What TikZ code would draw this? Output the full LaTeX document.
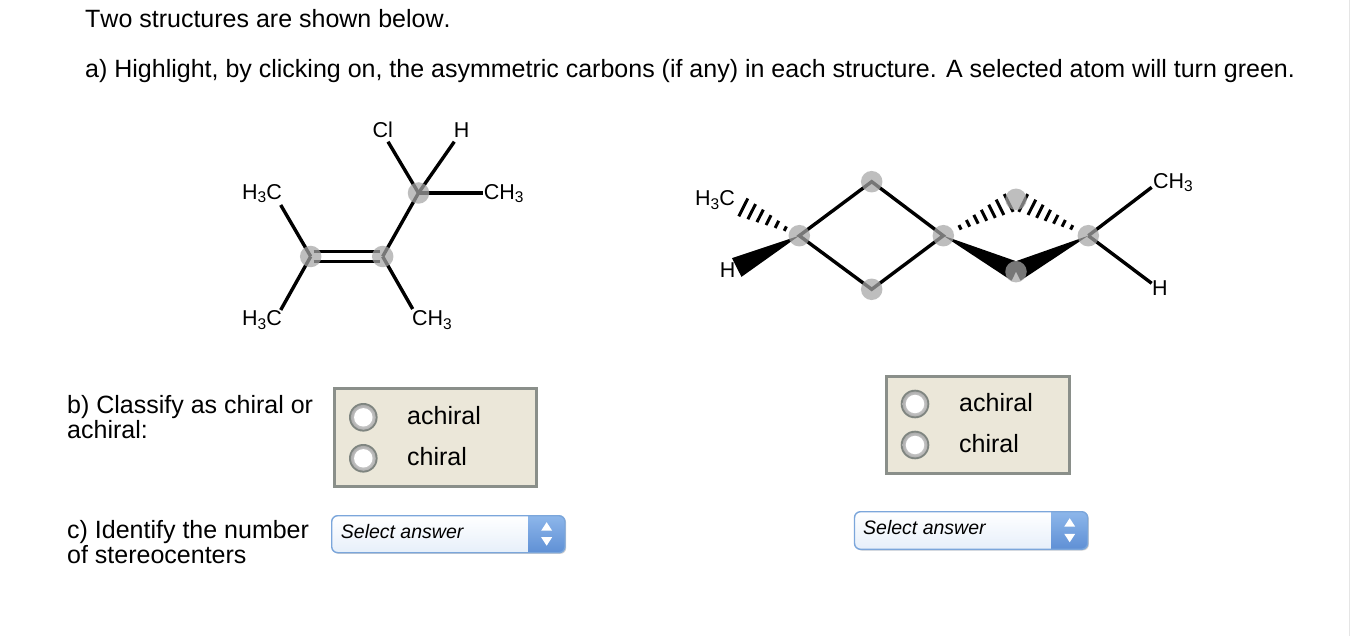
\documentclass[tikz,border=0pt]{standalone}
\usepackage{fontspec}
\setmainfont[Kerning=Off]{Liberation Sans}
\usetikzlibrary{calc}
\definecolor{panelfill}{HTML}{EBE7D9}
\definecolor{panelline}{HTML}{8A8F8A}
\definecolor{radioring}{HTML}{7F8580}
\definecolor{selline}{HTML}{7BA6DB}
\definecolor{btntop}{HTML}{8DB6EA}
\definecolor{btnbot}{HTML}{5F90D5}
\definecolor{selbot}{HTML}{E6EFFA}
\newcommand\sbt{\raisebox{-3.5pt}{\fontsize{15.5}{15.5}\selectfont 3}}
\tikzset{
  x=1pt,y=-1pt,
  bond/.style={line width=3.4pt,black},
  dbl/.style={line width=3pt,black},
  hashline/.style={line width=3pt,black},
  atom/.style={circle,fill=black!35,fill opacity=.72,draw=none,minimum size=21.5pt,inner sep=0pt},
  lab/.style={anchor=base,inner sep=0pt,font=\fontsize{21.5}{24}\selectfont},
  head/.style={anchor=base west,inner sep=0pt,font=\fontsize{25}{29}\selectfont},
  qtext/.style={anchor=north west,inner sep=0pt,align=left,font=\fontsize{25}{25}\selectfont},
  opt/.style={anchor=base west,inner sep=0pt,font=\fontsize{25}{29}\selectfont},
  panel/.style={draw=panelline,fill=panelfill,line width=3pt},
  seltext/.style={anchor=base west,inner sep=0pt,font=\fontsize{19.5}{22}\itshape\selectfont},
  ring/.style={circle,fill=radioring,draw=none,minimum size=28.6pt,inner sep=0pt},
  tri/.style={fill=white,draw=none},
}
% radio button
\newcommand\radiobtn[3]{%
  \node[ring] (#1) at (#2,#3) {};
  \shade[inner color=white,outer color=black!32] (#2,#3) circle[radius=12.5];
  \fill[white] (#2,#3) circle[radius=9.2];
}
% select box: name, x1,y1,x2,y2, divider x
\newcommand\selectbox[6]{%
  \fill[black!18,rounded corners=6pt] (#2+1.2,#3+1.2) rectangle (#4+1.2,#5+1.2);
  \begin{scope}
    \clip[rounded corners=6pt] (#2,#3) rectangle (#4,#5);
    \shade[top color=white,bottom color=selbot] (#2,#3) rectangle (#6,#5);
    \shade[top color=btntop,bottom color=btnbot] (#6,#3) rectangle (#4,#5);
  \end{scope}
  \node[draw=selline,line width=1.4pt,rounded corners=6pt,inner sep=0pt,minimum width=#4pt-#2pt,minimum height=#5pt-#3pt] (#1) at ({(#2+#4)/2},{(#3+#5)/2}) {};
  \fill[tri] ({(#6+#4)/2-5.5},#3+15) -- ({(#6+#4)/2+5.5},#3+15) -- ({(#6+#4)/2},#3+6.5) -- cycle;
  \fill[tri] ({(#6+#4)/2-5.5},#5-15.5) -- ({(#6+#4)/2+5.5},#5-15.5) -- ({(#6+#4)/2},#5-7) -- cycle;
}
\begin{document}
\begin{tikzpicture}
\useasboundingbox (0,0) rectangle (1350,636);
\fill[white] (0,0) rectangle (1350,636);
\fill[black!10] (1348.5,0) rectangle (1350,636);

% headings
\node[head] (t1) at (85,28) {Two structures are shown below.};
\node[head] (t2) at (85,78) {a) Highlight, by clicking on, the asymmetric carbons (if any) in each structure. A selected atom will turn green.};
\node[qtext] (qb) at (67,395.5) {b) Classify as chiral or\\achiral:};
\node[qtext] (qc) at (67,520.5) {c) Identify the number\\of stereocenters};

% left molecule
\coordinate (c1) at (310.7,256.5);
\coordinate (c2) at (382.7,256.5);
\coordinate (c3) at (418.5,193);
\coordinate (eCl) at (388,141.7);
\coordinate (eH) at (454.3,141.7);
\coordinate (eMe) at (483,193);
\coordinate (eTL) at (280.7,205);
\coordinate (eBL) at (280.7,310);
\coordinate (eBR) at (412.7,309);
\draw[bond] (c3) -- (eCl);
\draw[bond] (c3) -- (eH);
\draw[bond] (c3) -- (eMe);
\draw[bond] (c3) -- (c2);
\draw[bond] (c2) -- (eBR);
\draw[bond] (c1) -- (eTL);
\draw[bond] (c1) -- (eBL);
\draw[dbl] ([xshift=3pt,yshift=5.3pt]c1) -- ([xshift=-3pt,yshift=5.3pt]c2);
\draw[dbl] ([xshift=3pt,yshift=-5.3pt]c1) -- ([xshift=-3pt,yshift=-5.3pt]c2);
\node[atom] (a1) at (c1) {};
\node[atom] (a2) at (c2) {};
\node[atom] (a3) at (c3) {};
\node[lab] (lCl) at (382.7,137.5) {Cl};
\node[lab] (lH) at (461.7,137.5) {H};
\node[lab] (lMe) at (503.7,199.3) {CH\sbt};
\node[lab] (lTL) at (262,199.3) {H\sbt C};
\node[lab] (lBL) at (262,326) {H\sbt C};
\node[lab] (lBR) at (432,326) {CH\sbt};

% right molecule
\coordinate (r1) at (799.3,235.7);
\coordinate (r2) at (871.7,181.7);
\coordinate (r3) at (943.3,235.7);
\coordinate (r4) at (871.7,289.3);
\coordinate (r5) at (1016,199.3);
\coordinate (r6) at (1016,271.7);
\coordinate (r7) at (1088.3,235.7);
\coordinate (eMeL) at (732.1,201.7);
\coordinate (eHL) at (736.7,267.5);
\coordinate (eMeR) at (1151.7,187.3);
\coordinate (eHR) at (1151.7,283.3);
\draw[bond] (r1) -- (r2) -- (r3) -- (r4) -- cycle;
\draw[bond] (r7) -- (eMeR);
\draw[bond] (r7) -- (eHR);
\fill[black] (r1) -- ($(eHL)!10.5pt!90:(r1)$) -- ($(eHL)!10.5pt!-90:(r1)$) -- cycle;
\fill[black] (r3) -- ($(r6)!10pt!90:(r3)$) -- ($(r6)!10pt!-90:(r3)$) -- cycle;
\fill[black] (r7) -- ($(r6)!10pt!90:(r7)$) -- ($(r6)!10pt!-90:(r7)$) -- cycle;
\foreach \t in {.208,.333,.458,.583,.708,.833}{
  \pgfmathsetmacro\h{12*\t}
  \draw[hashline] ($(r1)!\t!(eMeL)!\h pt!90:(eMeL)$) -- ($(r1)!\t!(eMeL)!\h pt!-90:(eMeL)$);
}
\foreach \t in {.23,.34,.45,.56,.67,.78,.9}{
  \pgfmathsetmacro\h{11*\t}
  \draw[hashline] ($(r3)!\t!(r5)!\h pt!90:(r5)$) -- ($(r3)!\t!(r5)!\h pt!-90:(r5)$);
  \draw[hashline] ($(r7)!\t!(r5)!\h pt!90:(r5)$) -- ($(r7)!\t!(r5)!\h pt!-90:(r5)$);
}
\foreach \n/\c in {b1/r1,b2/r2,b3/r3,b4/r4,b5/r5,b6/r6,b7/r7}{
  \node[atom] (\n) at (\c) {};
}
\node[lab] (lrMe) at (715,205.7) {H\sbt C};
\node[lab] (lrH) at (727.7,278) {H};
\node[lab] (lrMe2) at (1173,188.3) {CH\sbt};
\node[lab] (lrH2) at (1160,296) {H};

% panels
\node[panel,minimum width=202pt,minimum height=97.4pt,inner sep=0pt] (p1) at (435.8,437.5) {};
\node[panel,minimum width=183pt,minimum height=97pt,inner sep=0pt] (p2) at (978,425) {};
\radiobtn{r1a}{363.3}{417.3}
\radiobtn{r1b}{363.3}{458.3}
\radiobtn{r2a}{915}{404}
\radiobtn{r2b}{915}{445}
\node[opt] (o1a) at (407,424.5) {achiral};
\node[opt] (o1b) at (407,465) {chiral};
\node[opt] (o2a) at (959,411) {achiral};
\node[opt] (o2b) at (959,452) {chiral};

% selects
\selectbox{s1}{331.7}{515.7}{565}{552.7}{528.3}
\selectbox{s2}{854.5}{511.7}{1087.7}{549.3}{1051.7}
\node[seltext] (st1) at (340.7,538.5) {Select answer};
\node[seltext] (st2) at (863,534.5) {Select answer};
\end{tikzpicture}
\end{document}
